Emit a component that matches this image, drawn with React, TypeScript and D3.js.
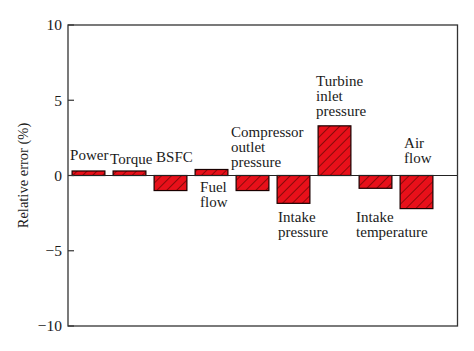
import React from "react";
import * as d3 from "d3";

const categories = ["Power", "Torque", "BSFC", "Fuel flow", "Compressor outlet pressure", "Intake pressure", "Turbine inlet pressure", "Intake temperature", "Air flow"];
const values = [0.3, 0.3, -1.0, 0.4, -1.0, -1.85, 3.3, -0.85, -2.2];
const labelLines = [["Power"], ["Torque"], ["BSFC"], ["Fuel", "flow"], ["Compressor", "outlet", "pressure"], ["Intake", "pressure"], ["Turbine", "inlet", "pressure"], ["Intake", "temperature"], ["Air", "flow"]];
const yTicks = [-10, -5, 0, 5, 10];
const yLabel = "Relative error (%)";

// label placement: dx offset from bar left edge, baseline y of first line (in px)
const labelPos: { dx: number; y: number }[] = [
  { dx: -2, y: 160 },
  { dx: -3, y: 164 },
  { dx: 2, y: 162 },
  { dx: 5, y: 192 },
  { dx: -5, y: 137 },
  { dx: 1, y: 222 },
  { dx: -2, y: 86 },
  { dx: -3, y: 222 },
  { dx: 4, y: 148 },
];

export default function App() {
  const W = 474, H = 351;
  const left = 68, right = 457.5, top = 25, bottom = 326;
  const x = d3.scaleLinear().domain([-0.5, categories.length]).range([left, right]);
  const y = d3.scaleLinear().domain([-10, 10]).range([bottom, top]);
  const step = x(1) - x(0);
  const bw = step * 0.8;
  const font = "'Liberation Serif', 'DejaVu Serif', serif";
  return (
    <svg width={W} height={H} style={{ position: "absolute", left: 0, top: 0, background: "#fff" }}>
      <defs>
        <pattern id="hatch" patternUnits="userSpaceOnUse" width={7} height={7} patternTransform="rotate(45)">
          <rect width={7} height={7} fill="#e8101a" />
          <line x1={0} y1={0} x2={0} y2={7} stroke="#8a0a0a" strokeWidth={2} />
        </pattern>
      </defs>
      {categories.map((c, i) => {
        const v = values[i];
        const cx = x(i);
        const y0 = y(0), y1 = y(v);
        return (
          <rect key={c} x={cx - bw / 2} y={Math.min(y0, y1)} width={bw} height={Math.abs(y1 - y0)}
            fill="url(#hatch)" stroke="#1a0000" strokeWidth={1.2} />
        );
      })}
      <line x1={left} x2={right} y1={y(0)} y2={y(0)} stroke="#222" strokeWidth={1.2} />
      <rect x={left} y={top} width={right - left} height={bottom - top} fill="none" stroke="#333" strokeWidth={1.3} />
      {yTicks.map((t) => (
        <g key={t}>
          <line x1={left} x2={left + 6} y1={y(t)} y2={y(t)} stroke="#333" strokeWidth={1.2} />
          <text x={left - 6} y={y(t)} dy="0.35em" textAnchor="end" fontFamily={font} fontSize={15.5} fill="#1a1a1a">
            {t < 0 ? "\u2212" + Math.abs(t) : String(t)}
          </text>
        </g>
      ))}
      <text transform={`translate(28,${(top + bottom) / 2}) rotate(-90)`} textAnchor="middle" fontFamily={font} fontSize={14.5} fill="#1a1a1a">
        {yLabel}
      </text>
      {labelLines.map((lines, i) => (
        <text key={i} fontFamily={font} fontSize={15} fill="#1a1a1a">
          {lines.map((ln, j) => (
            <tspan key={j} x={x(i) - bw / 2 + labelPos[i].dx} y={labelPos[i].y + j * 14.8}>{ln}</tspan>
          ))}
        </text>
      ))}
    </svg>
  );
}
